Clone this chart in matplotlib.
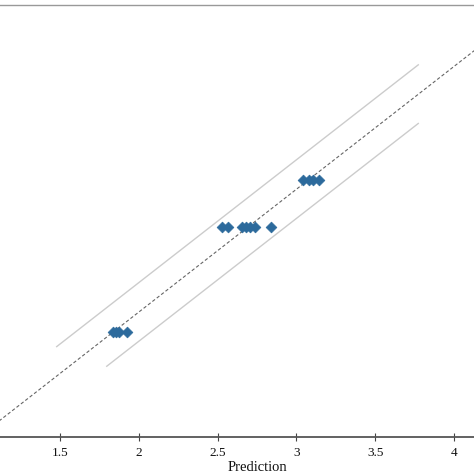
import matplotlib

matplotlib.use('Agg')
import matplotlib.pyplot as plt

# predicted vs observed values (three observed levels)
prediction = [1.835, 1.854, 1.873, 1.924,
              2.527, 2.566, 2.654, 2.679, 2.704, 2.736, 2.839,
              3.042, 3.080, 3.105, 3.144]
observed = [1.839, 1.839, 1.839, 1.839,
            2.690, 2.690, 2.690, 2.690, 2.690, 2.690, 2.690,
            3.073, 3.073, 3.073, 3.073]

# identity line and +/- band
identity_x = [1.0, 4.2]
upper_x = [1.477, 3.774]
upper_y = [1.717, 4.014]
lower_x = [1.795, 3.774]
lower_y = [1.557, 3.536]

x_ticks = [1.5, 2, 2.5, 3, 3.5, 4]
x_tick_labels = ['1.5', '2', '2.5', '3', '3.5', '4']

plt.rcParams['font.family'] = ['Liberation Serif', 'DejaVu Serif']

fig = plt.figure(figsize=(4.74, 4.74), dpi=100)
ax = fig.add_axes([-0.0388, 0.078, 1.0627, 0.911])

ax.plot(identity_x, identity_x, linestyle=(0, (3, 2)), color='#666666', linewidth=0.8, zorder=2)
ax.plot(upper_x, upper_y, color='#cccccc', linewidth=1.0, zorder=1)
ax.plot(lower_x, lower_y, color='#cccccc', linewidth=1.0, zorder=1)
ax.scatter(prediction, observed, marker='D', s=30, color='#2c6a9c', edgecolors='#2c6a9c', linewidths=0.5, zorder=3)

ax.set_xlim(1.0, 4.2)
ax.set_ylim(0.98, 4.5)
ax.set_xticks(x_ticks)
ax.set_xticklabels(x_tick_labels)
ax.tick_params(axis='x', direction='inout', length=6, width=0.8, colors='#444444', labelsize=9.5, pad=4, labelcolor='#111111')
ax.tick_params(axis='y', left=False, labelleft=False)

for side in ('left', 'right'):
    ax.spines[side].set_visible(False)
ax.spines['bottom'].set_color('#555555')
ax.spines['bottom'].set_linewidth(1.3)
ax.spines['top'].set_color('#999999')
ax.spines['top'].set_linewidth(1.0)

ax.set_xlabel('Prediction', fontsize=10.5, color='#111111')
ax.xaxis.set_label_coords(0.547, -0.056)

fig.savefig('out.png', dpi=100)
plt.close(fig)
